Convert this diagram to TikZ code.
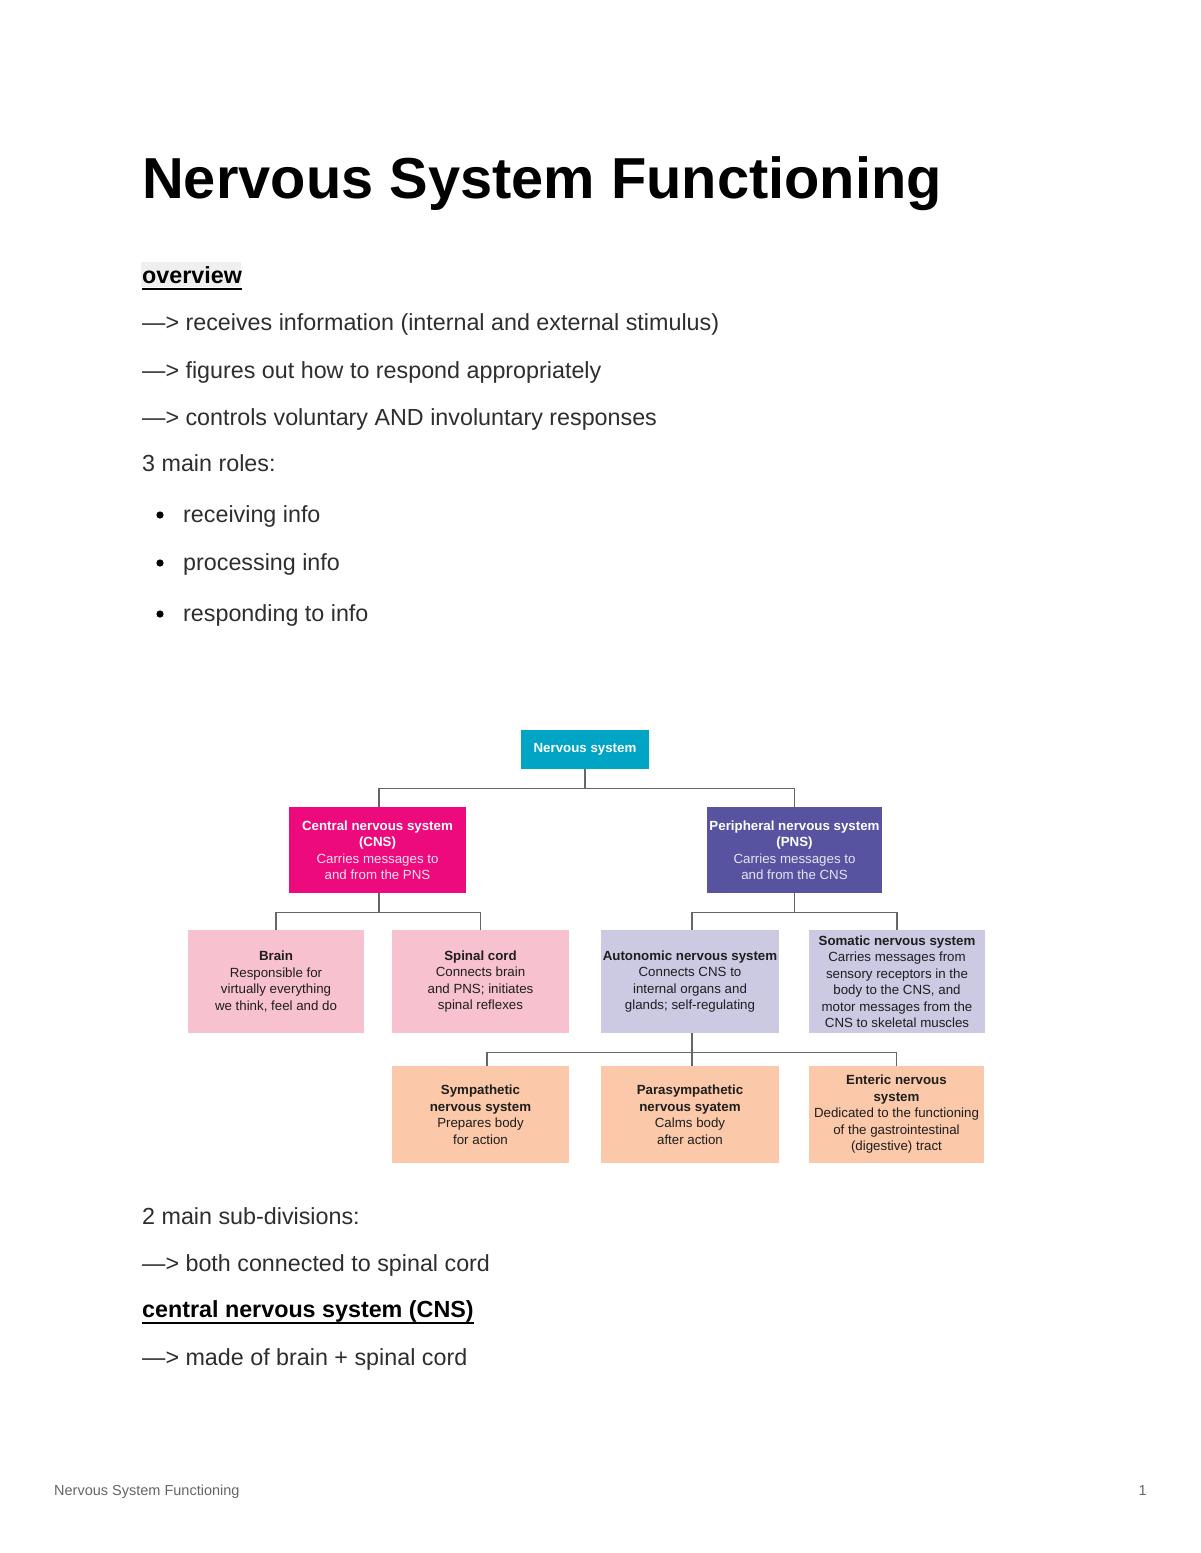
\documentclass[tikz,border=0pt]{standalone}
\usepackage{fontspec}
\setmainfont{Liberation Sans}
\usetikzlibrary{positioning,calc}
\definecolor{nsteal}{HTML}{00A5C5}
\definecolor{cnsmag}{HTML}{EC0A7C}
\definecolor{pnspur}{HTML}{5753A0}
\definecolor{pinkbox}{HTML}{F8C1CF}
\definecolor{lavbox}{HTML}{CCC9E3}
\definecolor{peachbox}{HTML}{FBC8A9}
\definecolor{bodytxt}{HTML}{2E2E2E}
\definecolor{boxtxt}{HTML}{1E1E1E}
\definecolor{connc}{HTML}{666666}
\definecolor{ovbg}{HTML}{EFEFEF}
\begin{document}
\begin{tikzpicture}[x=1pt,y=-1pt,
  orgbox/.style={inner sep=0pt, align=center, text=boxtxt,
    font=\fontsize{13.3}{16.5}\selectfont},
  bodyline/.style={anchor=base west, inner sep=0pt, text=bodytxt,
    font=\fontsize{23.3}{28}\selectfont},
  conn/.style={draw=connc, line width=1.4pt},
  uline/.style={draw=black, line width=2pt}
]
\useasboundingbox[fill=white] (0,0) rectangle (1200,1553);

% Title
\node[anchor=base west, inner sep=0pt, font=\fontsize{57.8}{64}\selectfont\bfseries] (title) at (142,198) {Nervous System Functioning};

% overview heading
\fill[ovbg] (141,262) rectangle (241,287);
\node[bodyline, font=\fontsize{23.3}{28}\selectfont\bfseries, text=black] (ov) at (142,283) {overview};
\draw[uline] ([yshift=-6pt]ov.base west) -- ([yshift=-6pt]ov.base east);

\node[bodyline] (l1) at (142,330) {—> receives information (internal and external stimulus)};
\node[bodyline] (l2) at (142,378) {—> figures out how to respond appropriately};
\node[bodyline] (l3) at (142,425) {—> controls voluntary AND involuntary responses};
\node[bodyline] (l4) at (142,471) {3 main roles:};

\node[bodyline] (b1t) at (183,522) {receiving info};
\node[bodyline] (b2t) at (183,570) {processing info};
\node[bodyline] (b3t) at (183,621) {responding to info};
\fill[black] (160,515) circle (3.6);
\fill[black] (160,563) circle (3.6);
\fill[black] (160,614) circle (3.6);

% Diagram
\node[orgbox, fill=nsteal, text=white, minimum width=128pt, minimum height=39pt] (ns) at (585,749.5) {\textbf{Nervous system}};

\node[orgbox, fill=cnsmag, text=white, minimum width=177pt, minimum height=86pt] (cns) at (377.5,850)
  {\textbf{Central nervous system}\\\textbf{(CNS)}\\\textcolor{white!88!cnsmag}{Carries messages to}\\\textcolor{white!88!cnsmag}{and from the PNS}};
\node[orgbox, fill=pnspur, text=white, minimum width=175pt, minimum height=86pt] (pns) at (794.5,850)
  {\textbf{Peripheral nervous system}\\\textbf{(PNS)}\\\textcolor{white!85!pnspur}{Carries messages to}\\\textcolor{white!85!pnspur}{and from the CNS}};

\node[orgbox, fill=pinkbox, minimum width=176pt, minimum height=103pt] (brain) at (276,981.5)
  {\textbf{Brain}\\Responsible for\\virtually everything\\we think, feel and do};
\node[orgbox, fill=pinkbox, minimum width=177pt, minimum height=103pt] (spinal) at (480.5,981.5)
  {\textbf{Spinal cord}\\Connects brain\\and PNS; initiates\\spinal reflexes};
\node[orgbox, fill=lavbox, minimum width=178pt, minimum height=103pt] (auto) at (690,981.5)
  {\textbf{Autonomic nervous system}\\Connects CNS to\\internal organs and\\glands; self-regulating};
\node[orgbox, fill=lavbox, minimum width=176pt, minimum height=103pt] (soma) at (897,981.5)
  {\textbf{Somatic nervous system}\\Carries messages from\\sensory receptors in the\\body to the CNS, and\\motor messages from the\\CNS to skeletal muscles};

\node[orgbox, fill=peachbox, minimum width=177pt, minimum height=97pt] (symp) at (480.5,1114.5)
  {\textbf{Sympathetic}\\\textbf{nervous system}\\Prepares body\\for action};
\node[orgbox, fill=peachbox, minimum width=178pt, minimum height=97pt] (para) at (690,1114.5)
  {\textbf{Parasympathetic}\\\textbf{nervous syatem}\\Calms body\\after action};
\node[orgbox, fill=peachbox, minimum width=175pt, minimum height=97pt] (ent) at (896.5,1114.5)
  {\textbf{Enteric nervous}\\\textbf{system}\\Dedicated to the functioning\\of the gastrointestinal\\(digestive) tract};

% connectors
\draw[conn] (ns.south) -- ++(0,19) coordinate (busA);
\draw[conn] ([xshift=1.5pt]cns.north) |- (busA) -| (pns.north);
\draw[conn] ([xshift=1.5pt]cns.south) -- ++(0,19) coordinate (busB);
\draw[conn] (brain.north) |- (busB) -| (spinal.north);
\draw[conn] (pns.south) -- ++(0,19) coordinate (busC);
\draw[conn] ([xshift=2pt]auto.north) |- (busC) -| (soma.north);
\draw[conn] ([xshift=2pt]auto.south) -- ++(0,19) coordinate (busD);
\draw[conn] ([xshift=6.5pt]symp.north) |- (busD) -| (ent.north);
\draw[conn] (busD) -- ([xshift=2pt]para.north);

% lower text
\node[bodyline] (l5) at (142,1224) {2 main sub-divisions:};
\node[bodyline] (l6) at (142,1271) {—> both connected to spinal cord};
\node[bodyline, font=\fontsize{23.3}{28}\selectfont\bfseries, text=black] (cnsh) at (142,1317) {central nervous system (CNS)};
\draw[uline] ([yshift=-6pt]cnsh.base west) -- ([yshift=-6pt]cnsh.base east);
\node[bodyline] (l7) at (142,1365) {—> made of brain + spinal cord};

% footer
\node[anchor=base west, inner sep=0pt, text=black!60, font=\fontsize{14.5}{17}\selectfont] (foot) at (54,1495) {Nervous System Functioning};
\node[anchor=base east, inner sep=0pt, text=black!60, font=\fontsize{14.5}{17}\selectfont] (pg) at (1147,1495) {1};
\end{tikzpicture}
\end{document}
